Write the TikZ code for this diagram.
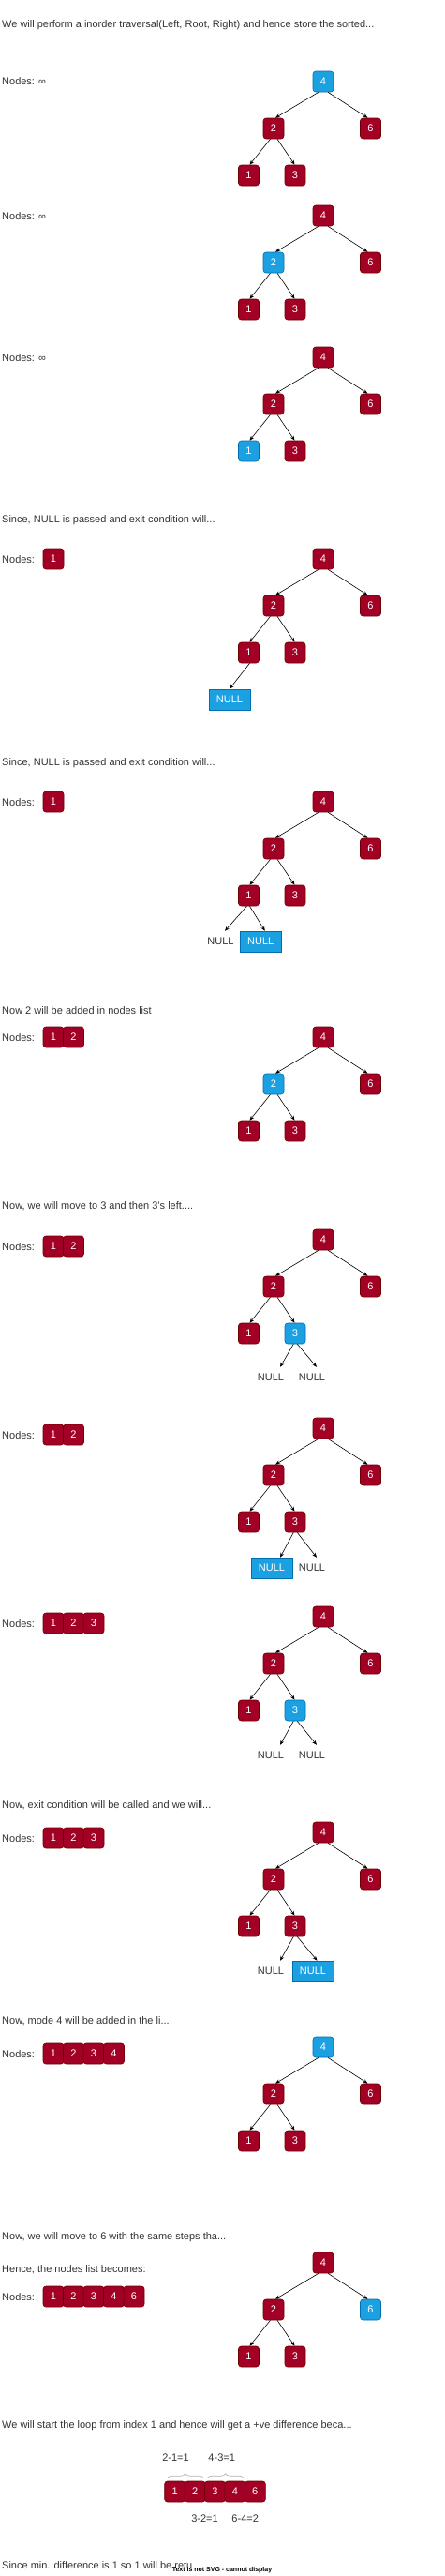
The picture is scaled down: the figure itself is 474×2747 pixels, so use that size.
\documentclass[tikz,border=0pt]{standalone}
\usepackage{fontspec}
\setmainfont{Liberation Sans}
\usetikzlibrary{arrows.meta,decorations.pathreplacing,calc}
\definecolor{redfill}{HTML}{A20025}
\definecolor{redline}{HTML}{6F0000}
\definecolor{bluefill}{HTML}{1BA1E2}
\definecolor{blueline}{HTML}{006EAF}
\definecolor{txtcol}{HTML}{333333}
\definecolor{bracecol}{HTML}{B3B3B3}
\newcommand\mainfs{\fontsize{11}{13}\selectfont}
\tikzset{
  rbox/.style={draw=redline, fill=redfill, text=white, rounded corners=3pt,
    minimum width=22pt, minimum height=22pt, inner sep=0pt, line width=0.6pt, font=\mainfs},
  bbox/.style={rbox, draw=blueline, fill=bluefill},
  nullbox/.style={draw=blueline, fill=bluefill, text=white, minimum width=44pt,
    minimum height=22pt, inner sep=0pt, line width=0.6pt, font=\mainfs},
  nulltxt/.style={text=txtcol, minimum width=44pt, minimum height=22pt, inner sep=0pt, font=\mainfs},
  txt/.style={anchor=base west, inner sep=0pt, text=txtcol, font=\mainfs},
  lbl/.style={inner sep=0pt, text=txtcol, font=\mainfs},
  edge/.style={draw=black, line width=0.6pt, -{Stealth[length=5pt,width=4pt]}},
  bracestyle/.style={draw=bracecol, line width=0.7pt, decorate, decoration={brace, amplitude=5pt}},
}
\newcommand\bsttree[7]{%
  \node[#3] (#1n4) at (345,#2) {4};
  \node[#4] (#1n2) at (292,#2+50) {2};
  \node[#5] (#1n6) at (395.5,#2+50) {6};
  \node[#6] (#1n1) at (265.5,#2+100) {1};
  \node[#7] (#1n3) at (315,#2+100) {3};
  \draw[edge] ([xshift=-5pt]#1n4.south) -- ([xshift=2pt]#1n2.north);
  \draw[edge] ([xshift=5pt]#1n4.south) -- ([xshift=-3pt]#1n6.north);
  \draw[edge] ([xshift=-3.5pt]#1n2.south) -- ([xshift=1pt]#1n1.north);
  \draw[edge] ([xshift=4pt]#1n2.south) -- ([xshift=-0.5pt]#1n3.north);
}
\newcommand\nodeslist[3]{%
  \node[txt] (#1lab) at (2,#2+4) {Nodes:};
  \foreach \d [count=\i] in {#3} {\node[rbox] (#1l\i) at ({57+21.5*(\i-1)},#2) {\d};}
}
\begin{document}
\begin{tikzpicture}[x=1pt,y=-1pt]
\useasboundingbox (0,0) rectangle (474,2747);
\fill[white] (0,0) rectangle (474,2747);

% Panel 1
\node[txt] (t1) at (2,29) {We will perform a inorder traversal(Left, Root, Right) and hence store the sorted...};
\node[txt] (alab) at (2,90) {Nodes: ∞};
\bsttree{a}{87}{bbox}{rbox}{rbox}{rbox}{rbox}

% Panel 2
\node[txt] (blab) at (2,234) {Nodes: ∞};
\bsttree{b}{230}{rbox}{bbox}{rbox}{rbox}{rbox}

% Panel 3
\node[txt] (clab) at (2,385) {Nodes: ∞};
\bsttree{c}{381}{rbox}{rbox}{rbox}{bbox}{rbox}

% Panel 4
\node[txt] (t4) at (2,557) {Since, NULL is passed and exit condition will...};
\nodeslist{d}{596}{1}
\bsttree{d}{596}{rbox}{rbox}{rbox}{rbox}{rbox}
\node[nullbox] (dnull) at (245,746) {NULL};
\draw[edge] ([xshift=1pt]dn1.south) -- (dnull.north);

% Panel 5
\node[txt] (t5) at (2,816) {Since, NULL is passed and exit condition will...};
\nodeslist{e}{855}{1}
\bsttree{e}{855}{rbox}{rbox}{rbox}{rbox}{rbox}
\node[nulltxt] (enulla) at (235.5,1004) {NULL};
\node[nullbox] (enullb) at (278.3,1004) {NULL};
\draw[edge] ([xshift=-2pt]en1.south) -- ([xshift=4.5pt]enulla.north);
\draw[edge] ([xshift=1pt]en1.south) -- ([xshift=4.5pt]enullb.north);

% Panel 6
\node[txt] (t6) at (2,1081) {Now 2 will be added in nodes list};
\nodeslist{f}{1106}{1,2}
\bsttree{f}{1106}{rbox}{bbox}{rbox}{rbox}{rbox}

% Panel 7
\node[txt] (t7) at (2,1289) {Now, we will move to 3 and then 3's left....};
\nodeslist{g}{1329}{1,2}
\bsttree{g}{1322}{rbox}{rbox}{rbox}{rbox}{bbox}
\node[nulltxt] (gnulla) at (289,1469) {NULL};
\node[nulltxt] (gnullb) at (333,1469) {NULL};
\draw[edge] ([xshift=-1.7pt]gn3.south) -- ([xshift=10pt]gnulla.north);
\draw[edge] ([xshift=2.3pt]gn3.south) -- ([xshift=5pt]gnullb.north);

% Panel 8
\nodeslist{h}{1530}{1,2}
\bsttree{h}{1523}{rbox}{rbox}{rbox}{rbox}{rbox}
\node[nullbox] (hnulla) at (290,1672) {NULL};
\node[nulltxt] (hnullb) at (333,1672) {NULL};
\draw[edge] ([xshift=-1.7pt]hn3.south) -- ([xshift=9pt]hnulla.north);
\draw[edge] ([xshift=2.3pt]hn3.south) -- ([xshift=5pt]hnullb.north);

% Panel 9
\nodeslist{i}{1731}{1,2,3}
\bsttree{i}{1724}{rbox}{rbox}{rbox}{rbox}{bbox}
\node[nulltxt] (inulla) at (289,1872) {NULL};
\node[nulltxt] (inullb) at (333,1872) {NULL};
\draw[edge] ([xshift=-1.7pt]in3.south) -- ([xshift=10pt]inulla.north);
\draw[edge] ([xshift=2.3pt]in3.south) -- ([xshift=5pt]inullb.north);

% Panel 10
\node[txt] (t10) at (2,1928) {Now, exit condition will be called and we will...};
\nodeslist{j}{1960}{1,2,3}
\bsttree{j}{1954}{rbox}{rbox}{rbox}{rbox}{rbox}
\node[nulltxt] (jnulla) at (289,2102) {NULL};
\node[nullbox] (jnullb) at (334,2102) {NULL};
\draw[edge] ([xshift=-1.7pt]jn3.south) -- ([xshift=10pt]jnulla.north);
\draw[edge] ([xshift=2.3pt]jn3.south) -- ([xshift=4.5pt]jnullb.north);

% Panel 11
\node[txt] (t11) at (2,2158) {Now, mode 4 will be added in the li...};
\nodeslist{k}{2190}{1,2,3,4}
\bsttree{k}{2183}{bbox}{rbox}{rbox}{rbox}{rbox}

% Panel 12
\node[txt] (t12) at (2,2388) {Now, we will move to 6 with the same steps tha...};
\node[txt] (t12b) at (2,2423) {Hence, the nodes list becomes:};
\nodeslist{m}{2449}{1,2,3,4,6}
\bsttree{m}{2413}{rbox}{rbox}{bbox}{rbox}{rbox}

% Panel 13
\node[txt] (t13) at (2,2589) {We will start the loop from index 1 and hence will get a +ve difference beca...};
\foreach \d [count=\i] in {1,2,3,4,6} {\node[rbox] (z\i) at ({186.7+21.4*(\i-1)},2657) {\d};}
\draw[bracestyle] ([xshift=3pt,yshift=3pt]z1.north west) -- ([xshift=-2pt,yshift=3pt]z2.north east);
\draw[bracestyle] ([xshift=3pt,yshift=3pt]z3.north west) -- ([xshift=-2pt,yshift=3pt]z4.north east);
\node[lbl] (d21) at (187.5,2621) {2-1=1};
\node[lbl] (d43) at (236.7,2621) {4-3=1};
\node[lbl] (d32) at (218.5,2686) {3-2=1};
\node[lbl] (d64) at (261.7,2686) {6-4=2};
\node[txt] (t14) at (2,2739) {Since min. difference is 1 so 1 will be retu};
\node[inner sep=0pt, text=black, font=\fontsize{7}{8}\selectfont\bfseries] (svgmsg) at (237,2741) {Text is not SVG - cannot display};
\end{tikzpicture}
\end{document}
